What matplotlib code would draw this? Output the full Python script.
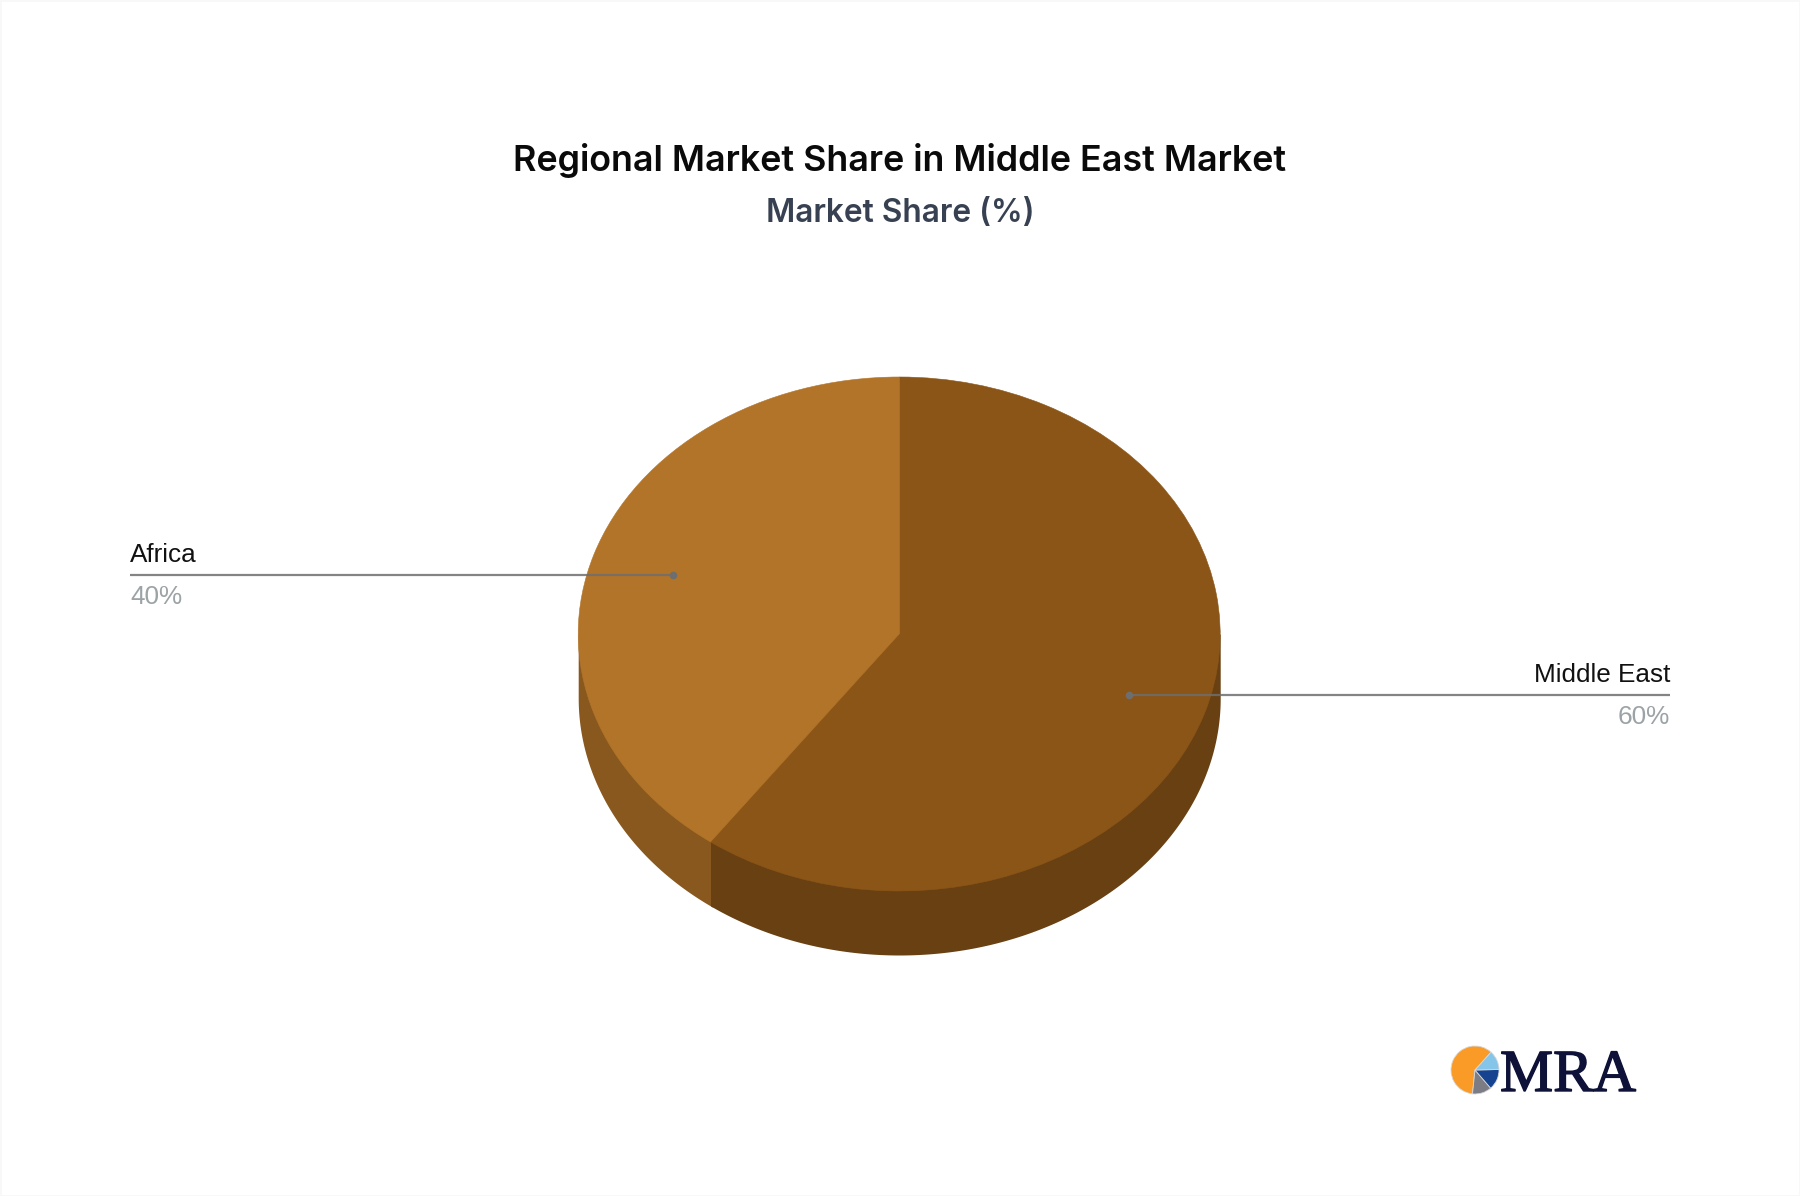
import numpy as np
import matplotlib
matplotlib.use('Agg')
import matplotlib.pyplot as plt
import matplotlib.patheffects as pe

regions = ['Middle East', 'Africa']
shares = [60, 40]
top_colors = ['#8B5517', '#B27429']
wall_colors = ['#684012', '#88581E']

logo_shares = [60, 13, 14, 13]
logo_colors = ['#F99B26', '#7C7C84', '#15438F', '#86C5EA']

W, H = 1800, 1196
CX, CY = 899.2, 634
RX, RY = 321, 257
DEPTH = 64 / RY

fig = plt.figure(figsize=(W / 100, H / 100), dpi=100, facecolor='white',
                 edgecolor='#F8F8F8', linewidth=2)

# full figure axes in pixel units for text and leader lines
bg = fig.add_axes([0, 0, 1, 1], zorder=3)
bg.set_xlim(0, W)
bg.set_ylim(H, 0)
bg.axis('off')
bg.patch.set_alpha(0)

# pie axes, stretched so that the circle becomes the tilted disc
px, py = 1.25 * RX, 1.5 * RY
ax = fig.add_axes([(CX - px) / W, 1 - (CY + py) / H, 2 * px / W, 2 * py / H], zorder=1)
wedges, _ = ax.pie(shares, colors=top_colors, startangle=90, counterclock=False, radius=1)
for wedge, color in zip(wedges, top_colors):
    wedge.set_edgecolor(color)
    wedge.set_linewidth(0.4)
ax.set_aspect('auto')
ax.set_xlim(-1.25, 1.25)
ax.set_ylim(-1.5, 1.5)

# side wall, only the lower half of the rim shows. upper edge stays hidden under the disc
split = 90 - shares[0] * 3.6  # where Middle East ends and Africa starts
# Africa runs a little past the split so no gap shows between the two walls
theta = np.radians(np.linspace(180, split + 360 + 0.5, 200))
ax.fill_between(np.cos(theta), 0, np.sin(theta) - DEPTH, color=wall_colors[1], linewidth=0, zorder=0)
theta = np.radians(np.linspace(split, 0, 300))
ax.fill_between(np.cos(theta), 0, np.sin(theta) - DEPTH, color=wall_colors[0], linewidth=0, zorder=0)

# titles
bg.text(900, 160, 'Regional Market Share in Middle East Market', ha='center', va='center',
        fontsize=25.85, fontweight='semibold', family='Inter', color='#0A0A0A')
bg.text(900, 214, 'Market Share (%)', ha='center', va='center',
        fontsize=22.8, fontweight='semibold', family='Inter', color='#374151')

# leader lines and labels
line_color = '#6E6E6E'
label_font = 'Liberation Sans'
for name, share, x0, x1, y, ha in [(regions[1], shares[1], 130, 673, 575, 'left'),
                                   (regions[0], shares[0], 1670, 1129, 695, 'right')]:
    bg.plot([x0, x1], [y, y], color=line_color, lw=1.6, alpha=0.85, solid_capstyle='butt')
    bg.plot([x1], [y], 'o', color=line_color, ms=5.5, mew=0)
    bg.text(x0, y - 13, name, ha=ha, va='baseline', fontsize=18.8, family=label_font, color='#111111')
    bg.text(x0, y + 29, f'{share}%', ha=ha, va='baseline', fontsize=18.8, family=label_font, color='#9CA3A6')

# logo
logo = fig.add_axes([(1475 - 30) / W, 1 - (1070 + 30) / H, 60 / W, 60 / H], zorder=2)
logo.pie(logo_shares, colors=logo_colors, startangle=48, counterclock=True, radius=1,
         wedgeprops={'linewidth': 0.6, 'edgecolor': '#D8D8D8'})
logo.set_xlim(-1.25, 1.25)
logo.set_ylim(-1.25, 1.25)
bg.text(1500, 1091, 'MRA', ha='left', va='baseline', fontsize=43, family='Liberation Serif',
        color='#0F1238', path_effects=[pe.withStroke(linewidth=1.0, foreground='#0F1238')])

fig.savefig('out.png', dpi=100)
